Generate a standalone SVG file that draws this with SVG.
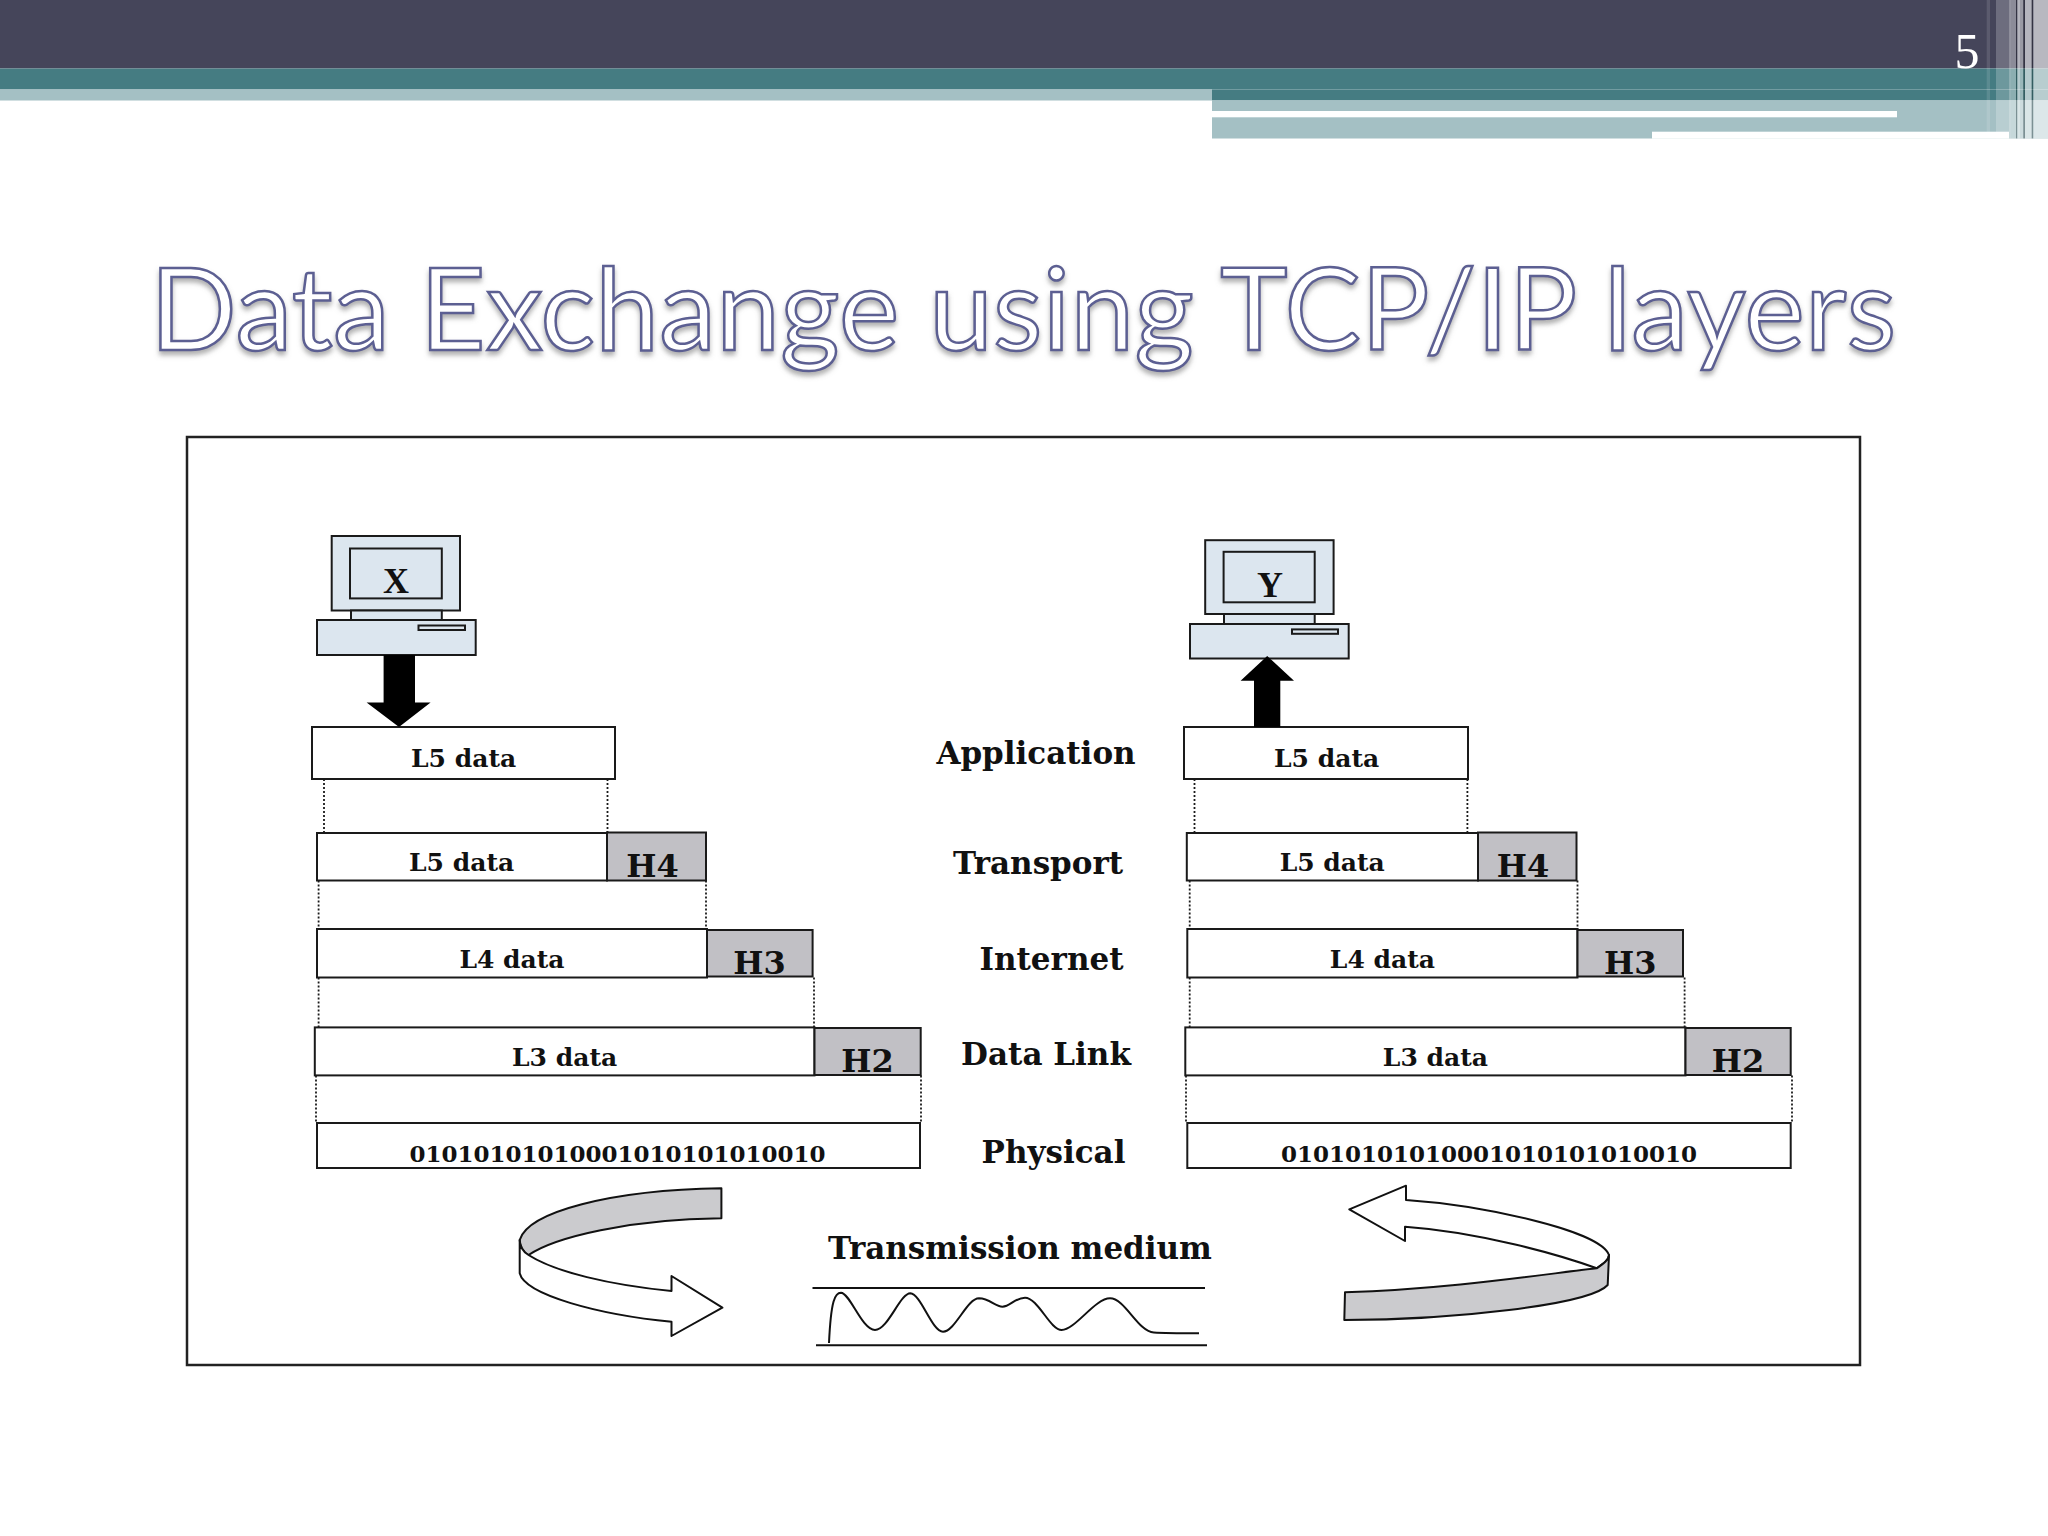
<svg xmlns="http://www.w3.org/2000/svg" width="2048" height="1536" viewBox="0 0 2048 1536">
<defs>
<style>
.box{fill:#ffffff;stroke:#1a1a1a;stroke-width:2}
.hdr{fill:#c1c0c5;stroke:#1a1a1a;stroke-width:2}
.dot{stroke:#1a1a1a;stroke-width:1.8;stroke-dasharray:2 2;fill:none}
.pc{fill:#dce6ef;stroke:#1a1a1a;stroke-width:2}
.lbl{font-family:"DejaVu Serif","Liberation Serif",serif;font-weight:bold;fill:#111111;text-anchor:middle}
.d{font-size:25px}
.h{font-size:32px}
.layer{font-size:31px}
.bin{font-size:23px}
.pcl{font-family:"Liberation Serif",serif;font-weight:bold;font-size:36px;fill:#111111;text-anchor:middle}
.rib{stroke:#111111;stroke-width:2;stroke-linejoin:round}
</style>
<filter id="shadow" x="-5%" y="-20%" width="110%" height="150%">
<feDropShadow dx="0" dy="4" stdDeviation="2.5" flood-color="#7a7a7a" flood-opacity="0.6"/>
</filter>
</defs>
<rect width="2048" height="1536" fill="#ffffff"/>
<g id="header">
<rect x="0" y="0" width="2048" height="68.5" fill="#45455a"/>
<rect x="0" y="68.5" width="2048" height="21" fill="#457c82"/>
<rect x="0" y="89.5" width="1212" height="11" fill="#a4c0c4"/>
<rect x="1212" y="89.5" width="836" height="11" fill="#457c82"/>
<rect x="1212" y="100.5" width="797" height="38" fill="#a4c0c4"/>
<rect x="1212" y="111" width="685" height="6.3" fill="#ffffff"/>
<rect x="1652" y="131.7" width="357" height="7" fill="#ffffff"/>
<rect x="2009" y="100.5" width="39" height="38" fill="#a4c0c4"/>
<g id="stripes">
<rect x="1986.7" y="0" width="3.3" height="138.5" fill="#ffffff" opacity="0.12"/>
<rect x="1996" y="0" width="13.3" height="138.5" fill="#ffffff" opacity="0.22"/>
<rect x="2009.3" y="0" width="1.4" height="138.5" fill="#ffffff" opacity="0.5"/>
<rect x="2010.7" y="0" width="5.3" height="138.5" fill="#ffffff" opacity="0.38"/>
<rect x="2016" y="0" width="1.3" height="138.5" fill="#000000" opacity="0.25"/>
<rect x="2017.3" y="0" width="2.7" height="138.5" fill="#ffffff" opacity="0.6"/>
<rect x="2020" y="0" width="3.3" height="138.5" fill="#ffffff" opacity="0.45"/>
<rect x="2023.3" y="0" width="1.7" height="138.5" fill="#000000" opacity="0.25"/>
<rect x="2025" y="0" width="6.7" height="138.5" fill="#ffffff" opacity="0.6"/>
<rect x="2031.7" y="0" width="1.6" height="138.5" fill="#000000" opacity="0.25"/>
<rect x="2033.3" y="0" width="14.7" height="138.5" fill="#ffffff" opacity="0.62"/>
</g>
<text x="1967" y="68" font-family="Liberation Serif, serif" font-size="50" fill="#ffffff" text-anchor="middle">5</text>
</g>
<g id="title">
<text x="150" y="350" font-family="Lato, 'Open Sans', sans-serif" font-size="114" fill="#ffffff" stroke="#5c5f92" stroke-width="2.5" textLength="1746" lengthAdjust="spacing" filter="url(#shadow)">Data Exchange using TCP/IP layers</text>
</g>
<rect id="frame" x="187" y="437" width="1673" height="928" fill="none" stroke="#222222" stroke-width="2.5"/>

<g id="computer-x">
<rect class="pc" x="331.7" y="536" width="128.3" height="74.5"/>
<rect class="pc" x="350" y="548.5" width="91.8" height="49.9"/>
<rect class="pc" x="351" y="610.5" width="90.8" height="9.5"/>
<rect class="pc" x="317" y="620" width="158.7" height="35"/>
<rect class="pc" x="418.5" y="625.5" width="46.5" height="4.5" stroke-width="1.5"/>
<text class="pcl" x="396" y="593">X</text>
</g>
<g id="computer-y">
<rect class="pc" x="1205.2" y="540.2" width="128.4" height="73.8"/>
<rect class="pc" x="1223.6" y="551.8" width="91.1" height="50.5"/>
<rect class="pc" x="1224" y="614" width="90.7" height="10"/>
<rect class="pc" x="1190" y="624" width="158.7" height="34.5"/>
<rect class="pc" x="1292" y="629.4" width="46" height="4.4" stroke-width="1.5"/>
<text class="pcl" x="1270" y="597">Y</text>
</g>

<g id="layer-labels">
<text class="lbl layer" x="1036" y="764">Application</text>
<text class="lbl layer" x="1038" y="874">Transport</text>
<text class="lbl layer" x="1051.5" y="970">Internet</text>
<text class="lbl layer" x="1046" y="1065">Data Link</text>
<text class="lbl layer" x="1053.5" y="1162.7">Physical</text>
</g>

<g id="stack-x">
<g id="x-app"><rect class="box" x="312" y="727" width="303" height="52"/><text class="lbl d" x="463.6" y="766.6">L5 data</text></g>
<g id="x-transport"><rect class="box" x="317" y="833" width="290" height="47.5"/><rect class="hdr" x="607" y="832.5" width="99" height="48"/><text class="lbl d" x="461.6" y="870.8">L5 data</text><text class="lbl h" x="652.6" y="876.6">H4</text></g>
<g id="x-internet"><rect class="box" x="317" y="929" width="390" height="48.5"/><rect class="hdr" x="707" y="930" width="105.6" height="46.5"/><text class="lbl d" x="512" y="967.7">L4 data</text><text class="lbl h" x="759.5" y="973.6">H3</text></g>
<g id="x-datalink"><rect class="box" x="314.8" y="1027.4" width="499.7" height="48"/><rect class="hdr" x="814.5" y="1028" width="106.2" height="47"/><text class="lbl d" x="564.6" y="1066">L3 data</text><text class="lbl h" x="867.4" y="1072">H2</text></g>
<g id="x-physical"><rect class="box" x="317" y="1123" width="603" height="45"/><text class="lbl bin" x="617.5" y="1161.5">01010101010001010101010010</text></g>
</g>

<g id="stack-y">
<g id="y-app"><rect class="box" x="1184" y="727" width="284" height="52"/><text class="lbl d" x="1326.6" y="766.6">L5 data</text></g>
<g id="y-transport"><rect class="box" x="1186.8" y="833" width="291.2" height="47.5"/><rect class="hdr" x="1478" y="832.5" width="98.5" height="48"/><text class="lbl d" x="1332.2" y="870.8">L5 data</text><text class="lbl h" x="1523" y="876.6">H4</text></g>
<g id="y-internet"><rect class="box" x="1187.3" y="929" width="390.2" height="48.5"/><rect class="hdr" x="1577.5" y="930" width="105.5" height="46.5"/><text class="lbl d" x="1382.4" y="967.7">L4 data</text><text class="lbl h" x="1630.3" y="973.6">H3</text></g>
<g id="y-datalink"><rect class="box" x="1185.3" y="1027.4" width="500.2" height="48"/><rect class="hdr" x="1685.5" y="1028" width="105.2" height="47"/><text class="lbl d" x="1435.4" y="1066">L3 data</text><text class="lbl h" x="1738" y="1072">H2</text></g>
<g id="y-physical"><rect class="box" x="1187.3" y="1123" width="603.4" height="45"/><text class="lbl bin" x="1489" y="1161.5">01010101010001010101010010</text></g>
</g>

<g id="connectors">
<polygon points="383.6,655 415,655 415,702.6 430.6,702.6 399,727 366.6,702.6 383.6,702.6" fill="#000000"/>
<polygon points="1267.2,656 1294,680.8 1280.3,680.8 1280.3,727 1254,727 1254,680.8 1240.6,680.8" fill="#000000"/>
<line class="dot" x1="324" y1="779" x2="324" y2="833"/>
<line class="dot" x1="607.5" y1="779" x2="607.5" y2="833"/>
<line class="dot" x1="318.6" y1="880.5" x2="318.6" y2="929"/>
<line class="dot" x1="706" y1="880.5" x2="706" y2="929"/>
<line class="dot" x1="318.6" y1="977.5" x2="318.6" y2="1027"/>
<line class="dot" x1="814" y1="977.5" x2="814" y2="1027"/>
<line class="dot" x1="316" y1="1075.4" x2="316" y2="1123"/>
<line class="dot" x1="921" y1="1075.4" x2="921" y2="1123"/>
<line class="dot" x1="1194.5" y1="779" x2="1194.5" y2="833"/>
<line class="dot" x1="1467.4" y1="779" x2="1467.4" y2="833"/>
<line class="dot" x1="1189.7" y1="880.5" x2="1189.7" y2="929"/>
<line class="dot" x1="1577.5" y1="880.5" x2="1577.5" y2="929"/>
<line class="dot" x1="1189.7" y1="977.5" x2="1189.7" y2="1027"/>
<line class="dot" x1="1684.6" y1="977.5" x2="1684.6" y2="1027"/>
<line class="dot" x1="1186" y1="1075.4" x2="1186" y2="1123"/>
<line class="dot" x1="1792" y1="1075.4" x2="1792" y2="1123"/>
</g>

<g id="arrow-left">
<path class="rib" fill="#cbcbce" d="M721.4,1188.3 L721.4,1218.3 C630,1219 555,1237 528.5,1255 Q520,1250 519.7,1240 C528,1212 610,1190 721.4,1188.3 Z"/>
<path class="rib" fill="#ffffff" d="M519.7,1240 Q520,1250 528.5,1255 C555,1272 610,1285 671.5,1291 L671.5,1276 L722.4,1307.7 L671.5,1336 L671.5,1321.7 C600,1315 525,1295 519.7,1273.3 Z"/>
</g>
<g id="arrow-right">
<path class="rib" fill="#ffffff" d="M1406,1200 L1406,1185.7 L1349.3,1209.3 L1405,1241 L1405,1226.7 C1480,1232 1560,1255 1596.7,1268.3 C1603,1264 1609,1260 1609,1255 C1600,1230 1480,1205 1406,1200 Z"/>
<path class="rib" fill="#cbcbce" d="M1596.7,1268.3 C1545,1274 1450,1289 1345,1292.3 L1344.3,1320 C1450,1320 1590,1305 1607.7,1285 L1609,1255 C1609,1260 1603,1264 1596.7,1268.3 Z"/>
</g>

<g id="medium">
<text class="lbl layer" x="1020" y="1258.5">Transmission medium</text>
<line x1="812.5" y1="1288" x2="1205" y2="1288" stroke="#111111" stroke-width="2"/>
<line x1="816" y1="1345.3" x2="1207" y2="1345.3" stroke="#111111" stroke-width="2"/>
<path d="M829,1343 C831,1300 835,1292.7 841,1292.7 C850,1293 862,1330 875,1330 C888,1330 900,1293.3 910.4,1293.3 C921,1294 932,1331.7 943,1331.7 C955,1331.7 967,1298.3 979,1298.3 C990,1298.6 995,1306.7 1002.5,1306.7 C1010,1306.7 1015,1297.7 1025,1297.7 C1038,1297.7 1050,1330 1061.7,1330 C1075,1330 1095,1298.3 1110,1298.3 C1125,1298.3 1138,1331.7 1153.8,1332.5 C1165,1333.3 1185,1333.3 1199,1333.3" fill="none" stroke="#111111" stroke-width="2"/>
</g>
</svg>
